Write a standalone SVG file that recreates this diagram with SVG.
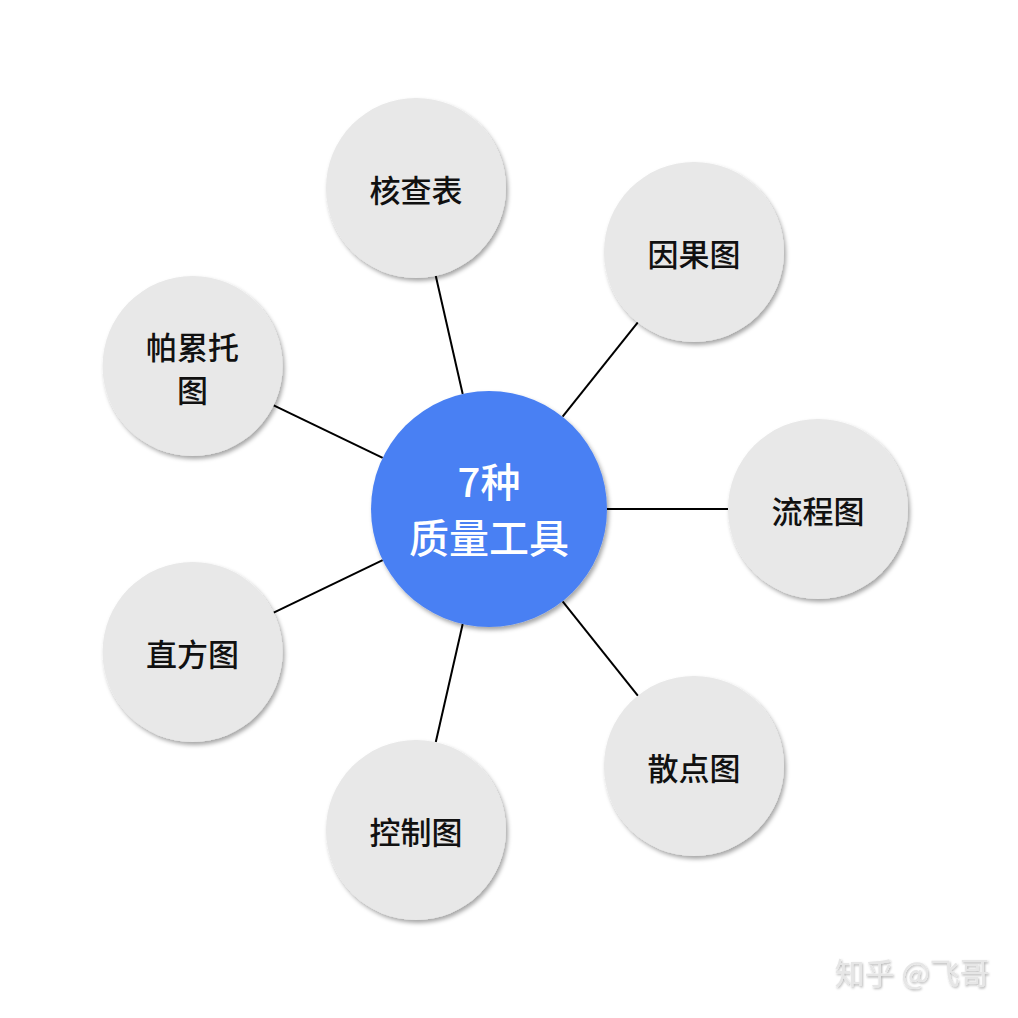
<svg xmlns="http://www.w3.org/2000/svg" width="1018" height="1018" viewBox="0 0 1018 1018">
<defs>
<filter id="sh" x="-20%" y="-20%" width="150%" height="150%">
<feDropShadow dx="2" dy="3" stdDeviation="2" flood-color="#000" flood-opacity="0.35"/>
</filter>
<filter id="tsh" x="-10%" y="-20%" width="120%" height="150%">
<feDropShadow dx="1" dy="1.5" stdDeviation="0.8" flood-color="#000" flood-opacity="0.3"/>
</filter>
<style>
.sat{fill:#e8e8e8;filter:url(#sh)}
.hub{fill:#4a80f3;filter:url(#sh)}
.lbl{font-family:"Noto Sans CJK SC","Noto Sans",sans-serif;font-size:31px;font-weight:500;fill:#111;text-anchor:middle;dominant-baseline:central}
.hlbl{font-family:"Noto Sans CJK SC","Noto Sans",sans-serif;font-size:40px;font-weight:500;fill:#fff;text-anchor:middle;dominant-baseline:central}
.ln{stroke:#000;stroke-width:2;fill:none}
</style>
</defs>
<rect width="1018" height="1018" fill="#fff"/>
<g id="connectors">
<line class="ln" x1="607" y1="509" x2="728" y2="509"/>
<line class="ln" x1="562.6" y1="416.7" x2="638" y2="322.1"/>
<line class="ln" x1="462.7" y1="394" x2="435.8" y2="276"/>
<line class="ln" x1="382.7" y1="457.8" x2="273.7" y2="405.3"/>
<line class="ln" x1="382.7" y1="560.2" x2="273.7" y2="612.7"/>
<line class="ln" x1="462.7" y1="624" x2="435.8" y2="742"/>
<line class="ln" x1="562.6" y1="601.3" x2="638" y2="695.9"/>
</g>
<g id="hub">
<circle class="hub" cx="489" cy="509" r="118"/>
<text class="hlbl" x="489" y="480">7种</text>
<text class="hlbl" x="489" y="536">质量工具</text>
</g>
<g id="n-liuchengtu">
<circle class="sat" cx="818" cy="509" r="90"/>
<text class="lbl" x="818" y="509">流程图</text>
</g>
<g id="n-yinguotu">
<circle class="sat" cx="694" cy="252" r="90"/>
<text class="lbl" x="694" y="252">因果图</text>
</g>
<g id="n-hechabiao">
<circle class="sat" cx="416" cy="188" r="90"/>
<text class="lbl" x="416" y="188">核查表</text>
</g>
<g id="n-paleituo">
<circle class="sat" cx="192.6" cy="366" r="90"/>
<text class="lbl" x="192.6" y="345">帕累托</text>
<text class="lbl" x="192.6" y="388">图</text>
</g>
<g id="n-zhifangtu">
<circle class="sat" cx="192.6" cy="652" r="90"/>
<text class="lbl" x="192.6" y="652">直方图</text>
</g>
<g id="n-kongzhitu">
<circle class="sat" cx="416" cy="830" r="90"/>
<text class="lbl" x="416" y="830">控制图</text>
</g>
<g id="n-sandiantu">
<circle class="sat" cx="694" cy="766" r="90"/>
<text class="lbl" x="694" y="766">散点图</text>
</g>
<g id="watermark">
<text x="912" y="984" font-family="Noto Sans CJK SC,Noto Sans,sans-serif" font-size="30" fill="#e6e6e6" text-anchor="middle" filter="url(#tsh)">知乎 @飞哥</text>
</g>
</svg>
